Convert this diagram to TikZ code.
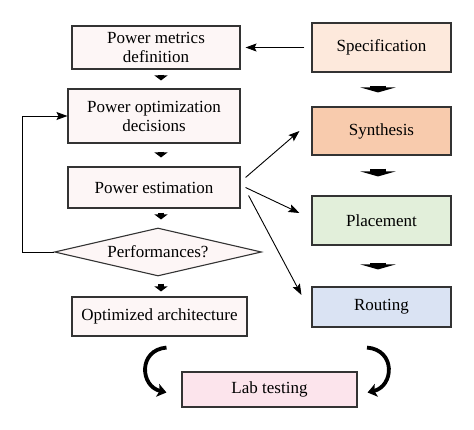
\documentclass[tikz,border=0pt]{standalone}
\usepackage{fontspec}
\setmainfont{Liberation Serif}
\usetikzlibrary{arrows.meta,shapes.geometric,calc}
\definecolor{leftfill}{HTML}{FDF6F6}
\definecolor{specfill}{HTML}{FDE9DC}
\definecolor{synfill}{HTML}{F8CBAD}
\definecolor{plafill}{HTML}{E2EFDA}
\definecolor{roufill}{HTML}{DAE3F3}
\definecolor{labfill}{HTML}{FCE4EC}
\definecolor{edge}{HTML}{333333}
\begin{document}
\begin{tikzpicture}[x=1pt,y=-1pt,
  box/.style={draw=edge,line width=1.1pt,inner sep=0pt,align=center,
    font=\fontsize{17}{19}\selectfont},
  lbox/.style={box,fill=leftfill},
  rbox/.style={box,minimum width=139pt},
  conn/.style={-{Stealth[length=11pt,width=8pt,inset=2pt]},line width=0.9pt,black},
  blkL/.style={-{Triangle[length=5pt,width=13pt]},line width=6pt,black},
  blkR/.style={-{Triangle[length=5pt,width=35pt]},line width=16pt,black},
  curv/.style={-{Stealth[length=9pt,width=13pt,inset=2pt]},line width=3.8pt,black}]
\useasboundingbox (0,0) rectangle (474,430);
\fill[white] (0,0) rectangle (474,430);
% left column
\node[lbox,minimum width=168pt,minimum height=43pt] (pmd) at (156,47.5) {Power metrics\\definition};
\node[lbox,minimum width=172pt,minimum height=54pt] (pod) at (154,116) {Power optimization\\decisions};
\node[lbox,minimum width=172pt,minimum height=41pt] (pe) at (154,187.5) {Power estimation};
\node[box,fill=leftfill,diamond,aspect=4.3,minimum width=207pt,minimum height=48pt] (perf) at (158,252) {Performances?};
\node[lbox,minimum width=175pt,minimum height=39pt] (oa) at (159.5,316.5) {Optimized architecture};
% right column
\node[rbox,fill=specfill,minimum height=49pt] (spec) at (381.5,47.5) {Specification};
\node[rbox,fill=synfill,minimum height=48pt] (syn) at (381.5,131) {Synthesis};
\node[rbox,fill=plafill,minimum height=49pt] (pla) at (381.5,220.5) {Placement};
\node[rbox,fill=roufill,minimum height=40pt] (rou) at (381.5,307) {Routing};
% bottom
\node[box,fill=labfill,minimum width=175pt,minimum height=35pt] (lab) at (269.5,389.5) {Lab testing};
% column axes for block arrows
\coordinate (ax) at (161,0);
\coordinate (bx) at (378,0);
% block arrows left
\draw[blkL] ($(pmd.south -| ax)+(0,5)$) -- ($(pod.north -| ax)+(0,-8)$);
\draw[blkL] ($(pod.south -| ax)+(0,8)$) -- ($(pe.north -| ax)+(0,-9)$);
\draw[blkL] ($(pe.south -| ax)+(0,4)$) -- ($(perf.north -| ax)+(0,-8)$);
\draw[blkL] ($(perf.south -| ax)+(0,7)$) -- ($(oa.north -| ax)+(0,-5)$);
% block arrows right
\draw[blkR] ($(spec.south -| bx)+(0,13)$) -- ($(syn.north -| bx)+(0,-14)$);
\draw[blkR] ($(syn.south -| bx)+(0,13)$) -- ($(pla.north -| bx)+(0,-19)$);
\draw[blkR] ($(pla.south -| bx)+(0,17)$) -- ($(rou.north -| bx)+(0,-17)$);
% connectors
\draw[conn] ([xshift=-7pt]spec.west) -- ([xshift=5pt]pmd.east);
\draw[conn] (perf.west) -- ++(-32,0) |- (pod.west);
\draw[conn] ($(pe.east)+(5,-10)$) -- ($(syn.west)+(-12,0)$);
\draw[conn] ($(pe.east)+(5,0)$) -- ($(pla.west)+(-12,-7.5)$);
\draw[conn] ($(pe.east)+(8,8)$) -- ($(rou.west)+(-10,-12)$);
% curved arrows
\coordinate (c1) at ($(oa.south)+(7,11)$);
\coordinate (c2) at ($(lab.west)+(-15,3)$);
\coordinate (c3) at ($(rou.south)+(-14.5,20)$);
\coordinate (c4) at ($(lab.east)+(10,3)$);
\draw[curv] (c1) .. controls (138,350) and (140,386) .. (c2);
\draw[curv] (c3) .. controls (396,350) and (394,386) .. (c4);
\end{tikzpicture}
\end{document}
